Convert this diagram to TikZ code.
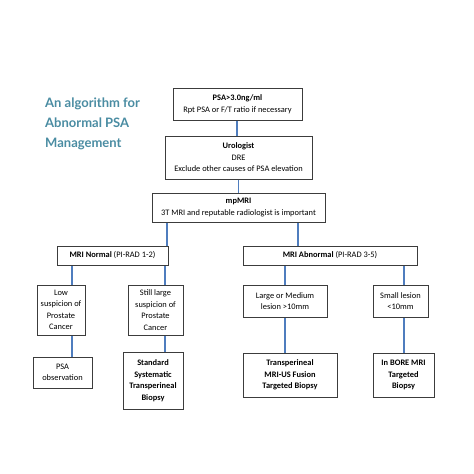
\documentclass[tikz,border=0pt]{standalone}
\usepackage{fontspec}
\setmainfont{Carlito}
\newfontfamily\titlefont{Lato}
\usepackage{xcolor}
\usepackage{tikz}
\definecolor{titleteal}{RGB}{74,140,162}
\definecolor{linkblue}{RGB}{79,125,190}
\definecolor{boxgray}{RGB}{60,60,60}

\begin{document}
\begin{tikzpicture}[x=1pt,y=-1pt,
	box/.style={draw=boxgray,line width=1pt,align=center,inner sep=0pt,font=\fontsize{8.4}{11.5}\selectfont},
	link/.style={draw=linkblue,line width=1.2pt}]
	\useasboundingbox (0,0) rectangle (474,474);
	\node (title) [anchor=north west,align=left,inner sep=0pt,text=titleteal,
		font=\titlefont\bfseries\fontsize{13}{20}\selectfont] at (45,98)
		{An algorithm for\\Abnormal PSA\\Management};
	% main column
	\node (psa) [box,minimum width=129pt,minimum height=32pt] at (237.5,104)
		{\textbf{PSA>3.0ng/ml}\\Rpt PSA or F/T ratio if necessary};
	\node (uro) [box,minimum width=147pt,minimum height=43pt] at (238.5,157.5)
		{\textbf{Urologist}\\DRE\\Exclude other causes of PSA elevation};
	\node (mpmri) [box,minimum width=173pt,minimum height=29pt] at (238.5,207.5)
		{\textbf{mpMRI}\\3T MRI and reputable radiologist is important};
	% MRI result
	\node (nrm) [box,minimum width=111pt,minimum height=19pt] at (112.5,255.5)
		{\textbf{MRI Normal} (PI-RAD 1-2)};
	\node (abn) [box,minimum width=174pt,minimum height=19pt] at (330,255.5)
		{\textbf{MRI Abnormal} (PI-RAD 3-5)};
	% second level
	\node (low) [box,minimum width=48pt,minimum height=50pt] at (61,310)
		{Low\\suspicion of\\Prostate\\Cancer};
	\node (still) [box,minimum width=55pt,minimum height=50pt] at (155.5,310)
		{Still large\\suspicion of\\Prostate\\Cancer};
	\node (lrg) [box,minimum width=84pt,minimum height=32pt] at (285,301)
		{Large or Medium\\lesion >10mm};
	\node (sml) [box,minimum width=55pt,minimum height=32pt] at (400.5,301)
		{Small lesion\\<10mm};
	% action
	\node (obs) [box,minimum width=59pt,minimum height=31pt] at (62.5,372.5)
		{PSA\\observation};
	\node (std) [box,minimum width=60pt,minimum height=57pt] at (153,380.5)
		{\textbf{Standard}\\\textbf{Systematic}\\\textbf{Transperineal}\\\textbf{Biopsy}};
	\node (fus) [box,minimum width=94pt,minimum height=44pt] at (290,375)
		{\textbf{Transperineal}\\\textbf{MRI-US Fusion}\\\textbf{Targeted Biopsy}};
	\node (bore) [box,minimum width=61pt,minimum height=44pt] at (403.5,375)
		{\textbf{In BORE MRI}\\\textbf{Targeted}\\\textbf{Biopsy}};

	\draw[link] ([xshift=-0.5pt]psa.south) -- ([xshift=-0.5pt]psa.south |- uro.north);
	\draw[link] (uro.south) -- (mpmri.north);
	\draw[link] ([xshift=-71.5pt]mpmri.south) -- ([xshift=-71.5pt]mpmri.south |- nrm.north);
	\draw[link] ([xshift=59.5pt]mpmri.south) -- ([xshift=59.5pt]mpmri.south |- abn.north);
	\draw[link] ([xshift=11pt]low.north) -- ([xshift=11pt]low.north |- nrm.south);
	\draw[link] ([xshift=9.5pt]still.north) -- ([xshift=9.5pt]still.north |- nrm.south);
	\draw[link] (lrg.north) -- (lrg.north |- abn.south);
	\draw[link] ([xshift=3.5pt]sml.north) -- ([xshift=3.5pt]sml.north |- abn.south);
	\draw[link] ([xshift=11pt]low.south) -- ([xshift=11pt]low.south |- obs.north);
	\draw[link] ([xshift=9.5pt]still.south) -- ([xshift=9.5pt]still.south |- std.north);
	\draw[link] (lrg.south) -- (lrg.south |- fus.north);
	\draw[link] ([xshift=3.5pt]sml.south) -- ([xshift=3.5pt]sml.south |- bore.north);
\end{tikzpicture}
\end{document}
